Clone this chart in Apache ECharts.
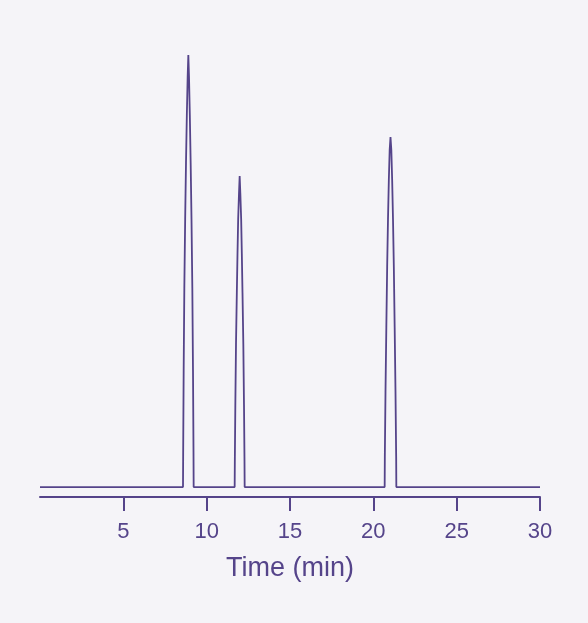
<!DOCTYPE html>
<html>
<head>
<meta charset="utf-8">
<script src="https://cdn.jsdelivr.net/npm/echarts@6/dist/echarts.min.js"></script>
<style>
html,body{margin:0;padding:0;background:#f5f4f8;}
#chart{width:588px;height:623px;}
</style>
</head>
<body>
<div id="chart"></div>
<script>
// Retention time (min) and detector signal (relative units)
const timeMin = [
  0,
  8.58, 8.59, 8.62, 8.66, 8.71, 8.76, 8.81, 8.86, 8.90, 8.94, 8.99, 9.04, 9.09, 9.14, 9.18, 9.21, 9.22,
  11.68, 11.69, 11.72, 11.76, 11.81, 11.85, 11.89, 11.94, 11.98, 12.02, 12.07, 12.11, 12.15, 12.20, 12.24, 12.27, 12.28,
  20.68, 20.69, 20.73, 20.78, 20.83, 20.88, 20.93, 20.98, 21.03, 21.08, 21.13, 21.18, 21.23, 21.28, 21.33, 21.37, 21.38,
  30
];
const signal = [
  0,
  0, 8, 27, 46, 62, 75, 86, 95, 100, 95, 86, 75, 62, 46, 27, 8, 0,
  0, 6, 19, 33, 45, 54, 62, 68, 72, 68, 62, 54, 45, 33, 19, 6, 0,
  0, 7, 22, 37, 51, 62, 71, 78, 81, 78, 71, 62, 51, 37, 22, 7, 0,
  0
];
const xTicks = [5, 10, 15, 20, 25, 30];
const xTitle = 'Time (min)';

const ink = '#55448a';
const chart = echarts.init(document.getElementById('chart'));
chart.setOption({
  backgroundColor: '#f5f4f8',
  animation: false,
  grid: { left: 40, right: 48, top: 55, bottom: 126 },
  xAxis: {
    type: 'value', min: 0, max: 30,
    name: xTitle, nameLocation: 'middle', nameGap: 58,
    nameTextStyle: { color: ink, fontSize: 27, fontFamily: 'Liberation Sans, Arial, sans-serif' },
    axisLine: { show: true, onZero: false, lineStyle: { color: ink, width: 2 } },
    axisTick: { show: true, length: 14, customValues: xTicks, lineStyle: { color: ink, width: 2 } },
    axisLabel: { customValues: xTicks, color: ink, fontSize: 22, margin: 24, fontFamily: 'Liberation Sans, Arial, sans-serif' },
    splitLine: { show: false }
  },
  yAxis: {
    type: 'value', min: -2.3, max: 100,
    show: false,
    splitLine: { show: false }
  },
  series: [{
    type: 'line',
    data: timeMin.map((t, i) => [t, signal[i]]),
    showSymbol: false,
    smooth: false,
    lineStyle: { color: ink, width: 1.8 }
  }]
});
</script>
</body>
</html>
